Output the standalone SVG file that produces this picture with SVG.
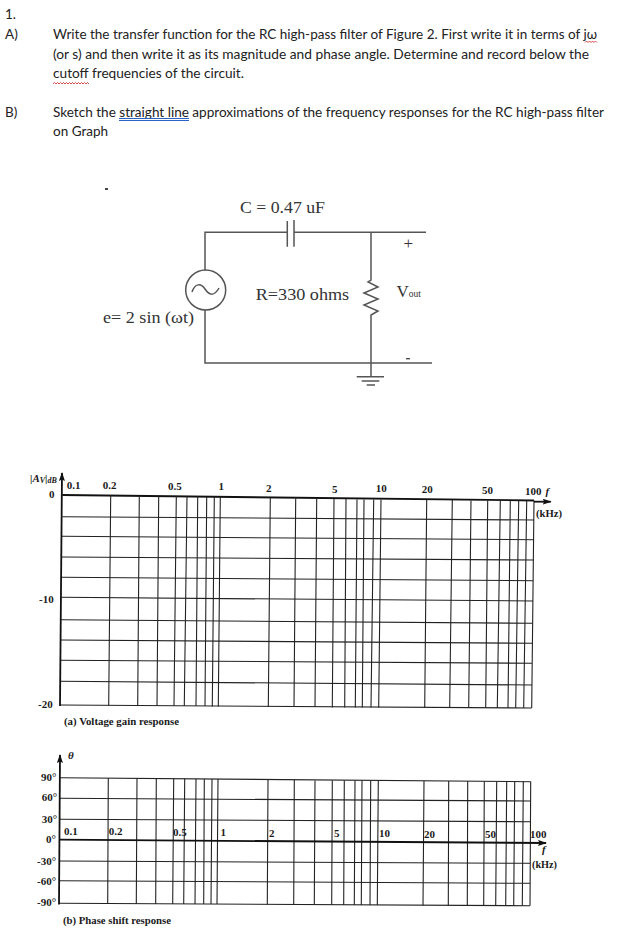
<svg xmlns="http://www.w3.org/2000/svg" width="619" height="949" viewBox="0 0 619 949">
<style>
.doc{font-family:Lato,"Liberation Sans",sans-serif;font-size:13.5px;fill:#222}
.sch{font-family:"Liberation Serif",serif;font-size:17px;fill:#333}
.lab{font-family:"Liberation Serif",serif;font-size:11px;font-weight:bold;fill:#1a1a1a}
.it{font-style:italic}
.w{fill:none;stroke:#555;stroke-width:1.5}
.g{fill:none;stroke:#222;stroke-width:1.1}
.gb{fill:none;stroke:#111;stroke-width:1.8}
.sq{fill:none;stroke:#c22;stroke-width:.8}
.bl{fill:none;stroke:#2a62c8;stroke-width:1}
</style>
<defs>
<marker id="ah" markerUnits="userSpaceOnUse" markerWidth="9" markerHeight="6" refX="8" refY="3" orient="auto"><path d="M0 0L9 3L0 6L1.500 3Z" fill="#111"/></marker>
</defs>
<rect width="619" height="949" fill="#fff"/>
<g id="question-text">
<text class="doc" x="5" y="19">1.</text>
<text class="doc" x="5" y="39">A)</text>
<text class="doc" x="53" y="39" textLength="544" lengthAdjust="spacingAndGlyphs">Write the transfer function for the RC high-pass filter of Figure 2. First write it in terms of jω</text>
<text class="doc" x="53" y="58.500" textLength="536" lengthAdjust="spacingAndGlyphs">(or s) and then write it as its magnitude and phase angle. Determine and record below the</text>
<text class="doc" x="53" y="78" textLength="191" lengthAdjust="spacingAndGlyphs">cutoff frequencies of the circuit.</text>
<text class="doc" x="5" y="117">B)</text>
<text class="doc" x="53" y="117" textLength="551" lengthAdjust="spacingAndGlyphs">Sketch the straight line approximations of the frequency responses for the RC high-pass filter</text>
<text class="doc" x="53" y="136" textLength="55" lengthAdjust="spacingAndGlyphs">on Graph</text>
<path class="sq" d="M585 42.500l1.500-1.500 1.500 1.500 1.500-1.500 1.500 1.500 1.500-1.500 1.500 1.500 1.500-1.500 1.500 1.500"/>
<path class="sq" d="M53 84l1.500-1.500 1.500 1.500 1.500-1.500 1.500 1.500 1.500-1.500 1.500 1.500 1.500-1.500 1.500 1.500 1.500-1.500 1.500 1.500 1.500-1.500 1.500 1.500 1.500-1.500 1.500 1.500 1.500-1.500 1.500 1.500 1.500-1.500 1.500 1.500 1.500-1.500 1.500 1.500 1.500-1.500 1.500 1.500 1.500-1.500 1.500 1.500"/>
<path class="bl" d="M119 118.500H189M119 120.500H189"/>
</g>
<g id="circuit">
<rect x="105" y="188" width="3" height="2" fill="#444"/>
<path class="w" d="M287.300 232.300H205V270M205 310V363H432M294 232.300H426M371 232.300V280l-3 2 10 5-14 6 14 6-14 6 14 6-7 4V376.700"/>
<path class="w" d="M287.300 221V246.700M294 220V246.700"/>
<circle class="w" cx="205.700" cy="290" r="20"/>
<path class="w" d="M192 292c3-9 9-9 13-3s9 8 14-1"/>
<path class="w" d="M356.700 376.700H384M361.700 381H379.300M366.700 385H375"/>
<text class="sch" x="240" y="213" textLength="85" lengthAdjust="spacingAndGlyphs">C = 0.47 uF</text>
<text class="sch" x="255.700" y="300" textLength="93.500" lengthAdjust="spacingAndGlyphs">R=330 ohms</text>
<text class="sch" x="103" y="323" textLength="91" lengthAdjust="spacingAndGlyphs">e= 2 sin (ωt)</text>
<text class="sch" x="403.500" y="249" font-size="13">+</text>
<text class="sch" x="396.500" y="297" font-size="11">V<tspan font-size="9.500">out</tspan></text>
<path d="M406 358.700H410" stroke="#444" stroke-width="1.300"/>
</g>
<g id="gain-graph">
<path class="g" d="M62.300 516.700L534 520M62 536.300L534 539.700M61.500 557L533.500 560M61 577.300L533 580.700M60.800 597.300L533 601M60.500 619.700L532.500 623.300M60.300 640L532.300 643.300M60 660.300L532 663.300M59.800 681.300L532 685M59.700 705L531.700 708"/>
<path class="gb" d="M62.300 495L534 500.500" stroke-width="1.400"/>
<path class="g" d="M110.700 495.500L108.700 705.500M139.300 496L137.700 706M158.700 496.500L157 706M176.300 496.500L174 706M187 496.500L184.300 706M197.700 497L196 706M206.700 497L205 706M214.300 497L212.300 706.500M220.300 497L218.300 706.500M270.300 498L268.300 707M295.700 498.500L294 707M316.700 498.500L315 707M334 499L332.300 707.500M346 499L344.700 707.500M357 499.500L355.300 707.500M364 499.500L362.300 707.500M373.700 499.500L371 707.500M381 499.500L378.700 707.500M426.700 500L424.700 708M452.300 500L449.700 708M471 500.500L468.700 708M487.700 500.500L485.700 708M500.300 500.500L497.300 708M510.300 500.500L508 708M518.700 500.500L515.700 708M526.700 500.500L523.700 708M534 500.500L531.700 708"/>
<path class="gb" d="M60 706L62 473" marker-end="url(#ah)" stroke-width="1.500"/>
<path class="gb" d="M534 501.700H550.700" marker-end="url(#ah)" stroke-width="1.300"/>
<text class="lab it" x="30" y="482" font-size="9.500">|A<tspan font-size="8" dy="1">V</tspan><tspan dy="-1">|</tspan><tspan font-size="8" dy="1">dB</tspan></text>
<text class="lab" x="66.700" y="489">0.1</text><text class="lab" x="102.700" y="489">0.2</text><text class="lab" x="168" y="490">0.5</text><text class="lab" x="218.500" y="490">1</text><text class="lab" x="266" y="491.500">2</text><text class="lab" x="332" y="492.500">5</text><text class="lab" x="375.700" y="492">10</text><text class="lab" x="421.700" y="493">20</text><text class="lab" x="482" y="494">50</text><text class="lab" x="525" y="495">100</text><text class="lab it" x="545.500" y="495">f</text>
<text class="lab" x="536" y="516.700" textLength="26" lengthAdjust="spacingAndGlyphs">(kHz)</text>
<text class="lab" x="49" y="498">0</text><text class="lab" x="39" y="603">-10</text><text class="lab" x="38" y="708">-20</text>
<text class="lab" x="64" y="725" textLength="115" lengthAdjust="spacingAndGlyphs">(a) Voltage gain response</text>
</g>
<g id="phase-graph">
<path class="g" d="M60 777.700L530.700 781.700M59.700 798.300L530.500 801M59.500 819.300L530.500 821.700M59 861L530.300 863.300M59 880.700L530 883.300M58.700 903.300L530 905.700"/>
<path class="g" d="M108.300 778L107.700 903.500M137 778L136.300 904M156.300 778.500L155.700 904M173.700 778.500L172.700 904M184.700 778.500L183.700 904M196 779L195 904M204.300 779L203.700 904M212 779L211 904M218 779L217 904M268 780L267.300 904.500M294.300 780L293.700 904.500M315 780.500L314.300 905M332.300 780.500L331.700 905M344.300 780.500L343.700 905M355 780.500L354.300 905M362 780.500L361.300 905M370.700 780.500L370 905M378.300 780.500L377.300 905M424 781L423 905.500M448.700 781L448.300 905.500M467.700 781L467.300 905.500M484.300 781.500L483.700 905.500M496.700 781.500L495.700 905.500M506.700 781.500L505.700 905.500M514.700 781.500L513.700 905.500M523.300 781.500L522.300 905.500M530.700 781.500L530 905.700"/>
<path class="gb" d="M59.500 839.700L546 843" marker-end="url(#ah)"/>
<path class="gb" d="M59 904.500L60 755" marker-end="url(#ah)" stroke-width="1.500"/>
<text class="lab it" x="68" y="759">θ</text>
<text class="lab" x="41" y="780.700">90°</text><text class="lab" x="41.700" y="801">60°</text><text class="lab" x="41.700" y="822.700">30°</text><text class="lab" x="46" y="843">0°</text><text class="lab" x="37" y="865">-30°</text><text class="lab" x="37" y="885">-60°</text><text class="lab" x="37" y="905.700">-90°</text>
<text class="lab" x="64" y="835">0.1</text><text class="lab" x="108.700" y="835">0.2</text><text class="lab" x="173" y="836">0.5</text><text class="lab" x="220.500" y="836">1</text><text class="lab" x="269" y="837">2</text><text class="lab" x="334" y="837">5</text><text class="lab" x="379" y="837">10</text><text class="lab" x="424" y="838">20</text><text class="lab" x="485" y="838">50</text><text class="lab" x="530" y="838">100</text><text class="lab it" x="542" y="853">f</text>
<text class="lab" x="532" y="867.700" textLength="25" lengthAdjust="spacingAndGlyphs">(kHz)</text>
<text class="lab" x="63" y="924" textLength="108" lengthAdjust="spacingAndGlyphs">(b) Phase shift response</text>
</g>
</svg>
